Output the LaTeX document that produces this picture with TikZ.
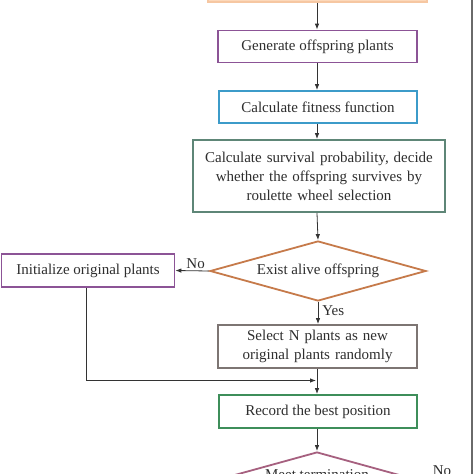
\documentclass[tikz,border=0pt]{standalone}
\usepackage{fontspec}
\setmainfont{Liberation Serif}
\usetikzlibrary{shapes.geometric,arrows.meta}
\definecolor{cpurple}{HTML}{8C5496}
\definecolor{cblue}{HTML}{3C9BC9}
\definecolor{cgreengray}{HTML}{5E8677}
\definecolor{corange}{HTML}{C67A4A}
\definecolor{cgray}{HTML}{7D7573}
\definecolor{cgreen}{HTML}{3E8E5A}
\definecolor{cpink}{HTML}{A6607F}
\definecolor{cpeach}{HTML}{FCD8BA}
\definecolor{cpeachline}{HTML}{F6C7A2}
\definecolor{ctext}{HTML}{2E2E2E}
\definecolor{cline}{HTML}{333333}
\definecolor{cframe}{HTML}{6A6A6A}
\tikzset{
  box/.style={draw, line width=1.8pt, rectangle, minimum height=33pt, inner sep=2pt,
    font=\fontsize{15}{19}\selectfont, text=ctext, align=center},
  dec/.style={draw, line width=1.8pt, diamond, aspect=3.6, minimum width=216pt,
    minimum height=60pt, inner sep=0pt, font=\fontsize{15}{19}\selectfont, text=ctext},
  arr/.style={draw=cline, line width=0.8pt, -{Latex[length=6pt,width=4.5pt]}},
  lbl/.style={font=\fontsize{15}{17}\selectfont, text=ctext, inner sep=0pt},
}
\begin{document}
\begin{tikzpicture}[x=1pt,y=-1pt]
\useasboundingbox (0,0) rectangle (474,474);
\clip (0,0) rectangle (474,474);
\fill[white] (0,0) rectangle (474,474);
\node[box, draw=cpeachline, fill=cpeach, minimum width=219pt, minimum height=32pt] (start) at (317.5,-14) {};
\node[box, draw=cpurple, minimum width=199pt, minimum height=32pt] (gen) at (317.5,46.5) {Generate offspring plants};
\node[box, draw=cblue, minimum width=198pt, minimum height=32pt] (fit) at (318,107) {Calculate fitness function};
\node[box, draw=cgreengray, minimum width=252pt, minimum height=72pt, text width=248pt] (surv) at (319,176)
  {Calculate survival probability, decide\\ whether the offspring survives by\\ roulette wheel selection};
\node[dec, draw=corange] (exist) at (318,271) {Exist alive offspring};
\node[box, draw=cpurple, minimum width=173pt, minimum height=33pt] (initp) at (88,270.5) {Initialize original plants};
\node[box, draw=cgray, minimum width=199pt, minimum height=43pt, text width=195pt] (sel) at (317.5,346.5)
  {Select N plants as new\\ original plants randomly};
\node[box, draw=cgreen, minimum width=198pt, minimum height=33pt] (rec) at (318,411.5) {Record the best position};
\node[dec, draw=cpink] (meet) at (317,482) {};
\node[lbl, anchor=north] (meettxt) at (317,469) {Meet termination};
\coordinate (join) at (317,380.5);
\coordinate (frtop) at (472,-5);
\coordinate (frbot) at (472,480);

\draw[arr] (start.south -| 317,0) -- (gen.north -| 317,0);
\draw[arr] (gen.south -| 317,0) -- (fit.north -| 317,0);
\draw[arr] (fit.south -| 317,0) -- (surv.north -| 317,0);
\draw[arr] (surv.south -| 317,0) -- (exist.north);
\draw[arr] (exist.west) -- node[lbl, anchor=south, pos=0.4, yshift=2pt] (nolbl) {No} (initp.east);
\draw[arr] (exist.south) -- node[lbl, anchor=west, xshift=4pt, pos=0.4] (yeslbl) {Yes} (sel.north -| exist.south);
\draw[draw=cline, line width=0.8pt] (sel.south -| 317,0) -- (join);
\draw[arr] (join) -- (rec.north -| 317,0);
\draw[arr] (initp.south -| 86,0) |- ([xshift=-1pt]join);
\draw[arr] (rec.south -| 317,0) -- (meet.north);
\node[lbl, anchor=north] (no2) at (442,465) {No};
\draw[draw=cframe, line width=2pt] (frtop) -- (frbot);
\end{tikzpicture}
\end{document}
